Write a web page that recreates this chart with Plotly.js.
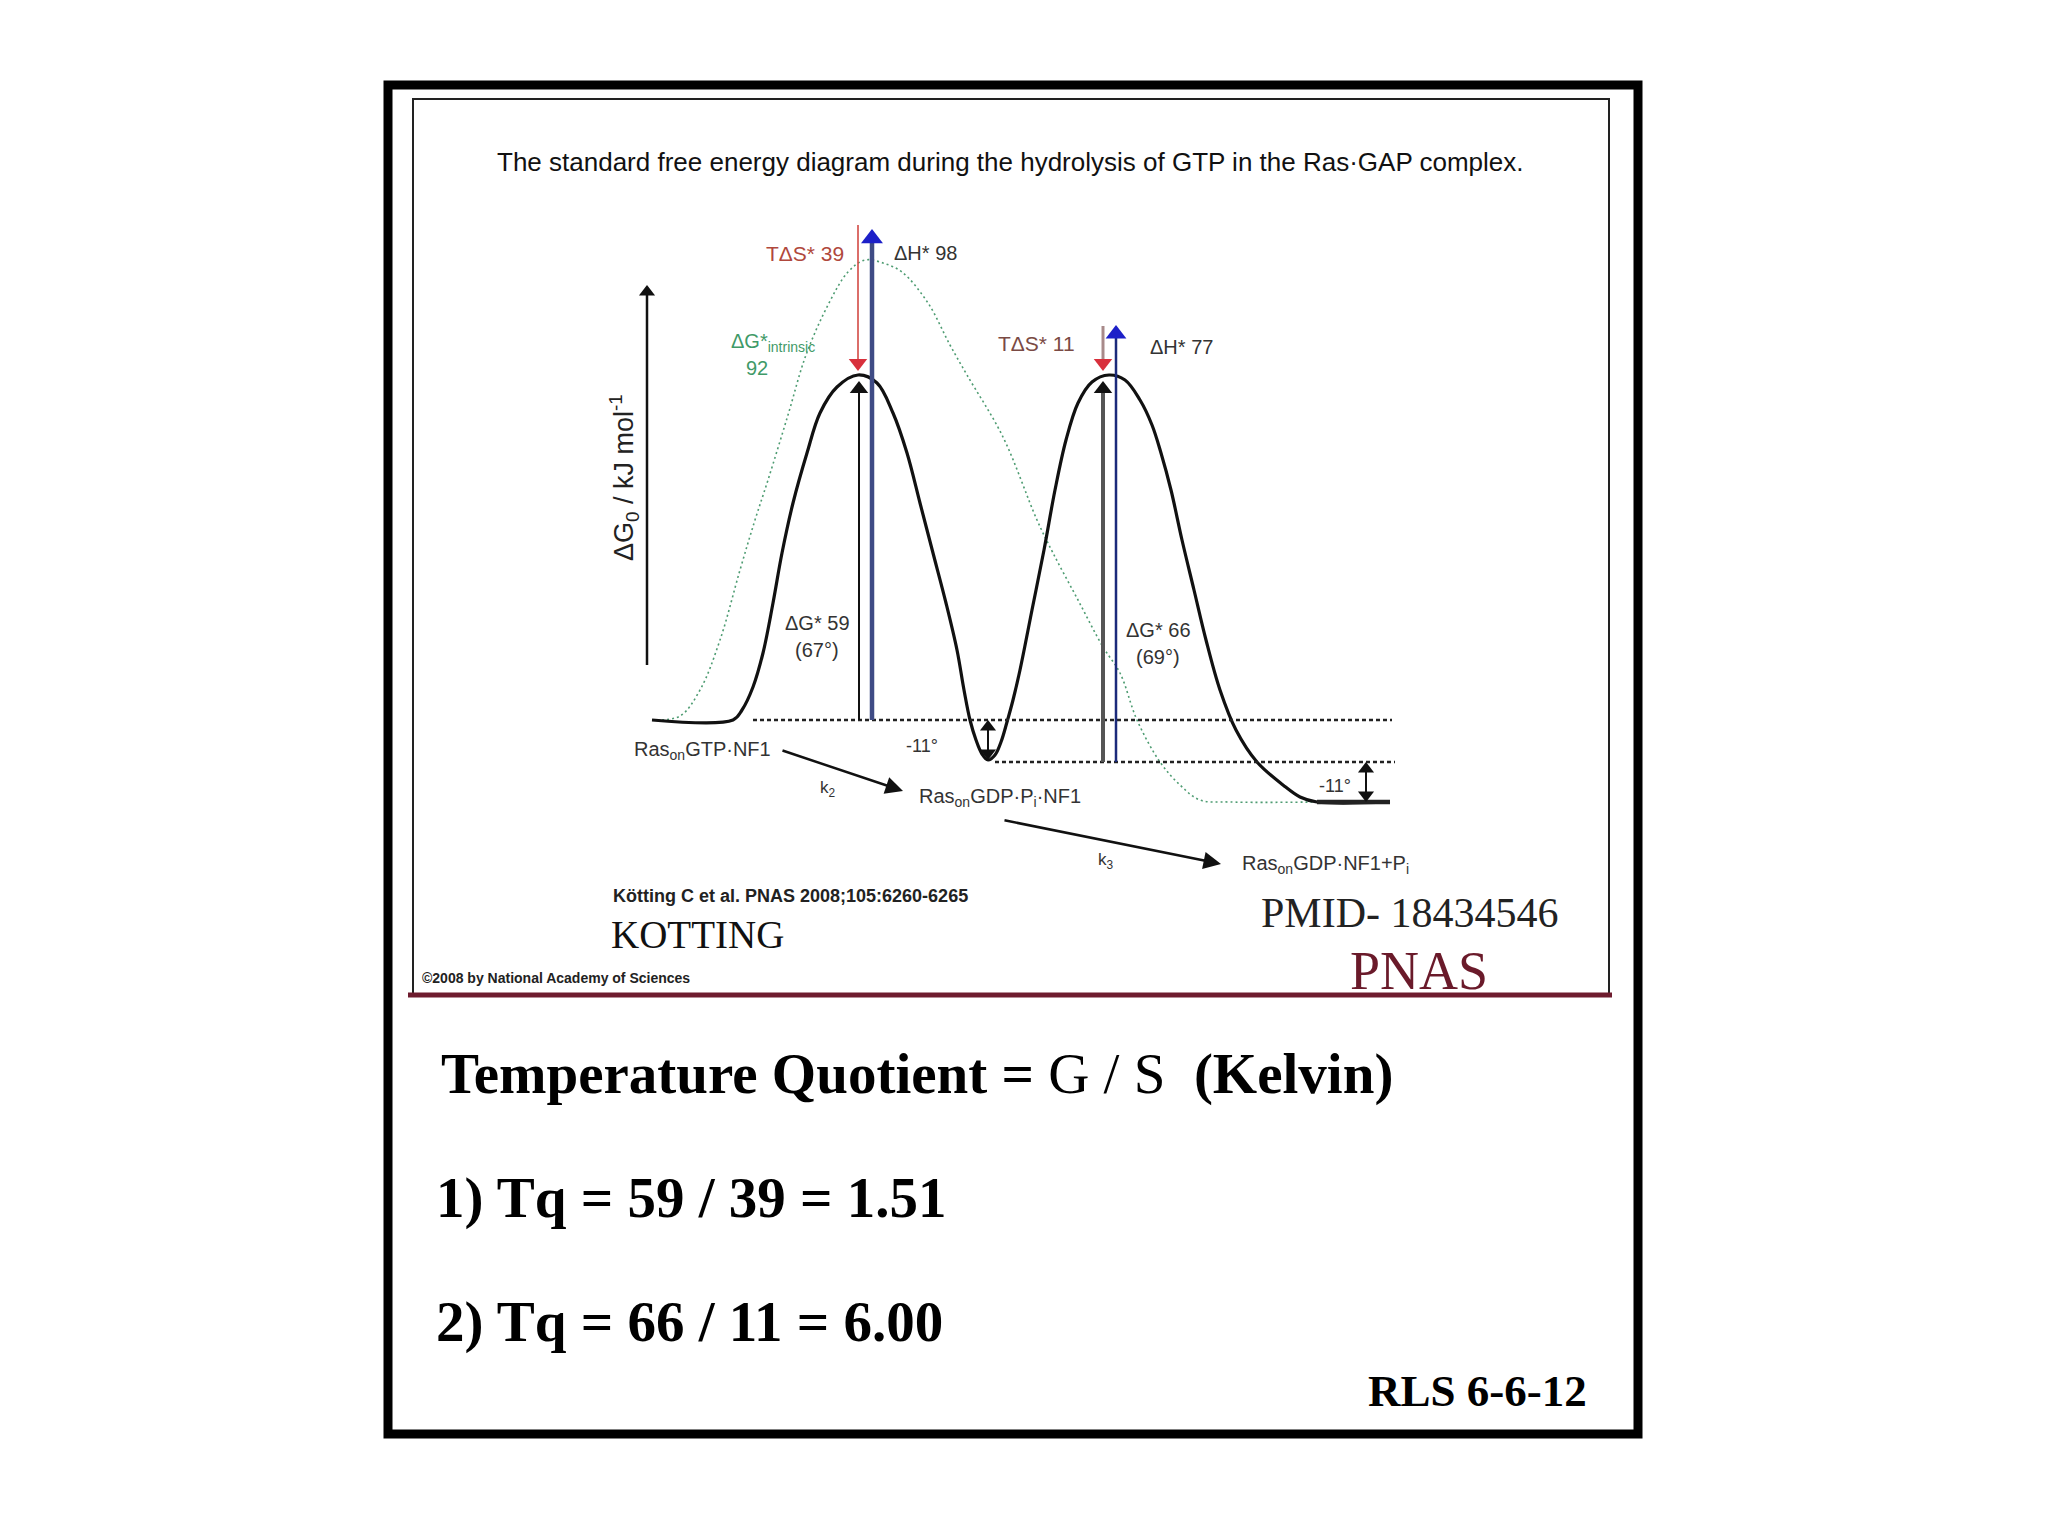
<!DOCTYPE html>
<html>
<head>
<meta charset="utf-8">
<script src="https://cdn.plot.ly/plotly-3.0.1.min.js"></script>
<style>html,body{margin:0;padding:0;background:#fff;}#chart{width:2048px;height:1536px;}</style>
</head>
<body>
<div id="chart"></div>
<script>
// ---- DATA (diagram units; y grows downward) ----
// Free-energy profile of the NF1-catalysed reaction (solid black)
const profileX = [652,733,742,753,763,773,782,793,807,820,837,858,877,893,907,920,933,946,957,964,970,976,982,988,995,1001,1007,1013,1020,1032,1044,1055,1066,1078,1092,1109,1125,1140,1152,1161,1171,1182,1194,1206,1220,1236,1257,1283,1300,1317,1390];
const profileY = [720,720,710,687,653,603,553,503,453,413,387,375,383,413,453,503,553,603,650,690,720,740,754,760,755,742,722,700,670,610,550,490,440,403,382,375,380,400,425,453,490,540,590,640,690,730,762,785,797,802,802];
// Intrinsic (uncatalysed) profile (green dotted)
const intrinsicX = [652,680,700,720,740,755,768,788,806,828,848,865,883,902,928,950,967,1003,1037,1053,1078,1103,1120,1137,1160,1180,1200,1230,1317];
const intrinsicY = [720,716,690,640,570,520,480,415,355,305,272,260,263,272,303,345,375,437,520,553,600,647,673,720,762,785,800,802,802];
// Reference levels (dotted): y, xStart, xEnd
const levelY = [720, 762];
const levelX0 = [753, 995];
const levelX1 = [1392, 1395];
// Vertical arrows: x, tail y, head y
const vArrowX    = [859, 858, 872, 1103, 1103, 1116];
const vArrowFrom = [720, 225, 720, 762, 326, 762];
const vArrowTo   = [381, 371, 229, 381, 371, 325];
const vArrowName = ["ΔG‡ 59", "TΔS‡ 39", "ΔH‡ 98", "ΔG‡ 66", "TΔS‡ 11", "ΔH‡ 77"];
// Double-headed arrows (-11 steps): x, top y, bottom y
const dArrowX = [988, 1366];
const dArrowTop = [720, 762];
const dArrowBot = [760, 802];
// Energy axis arrow
const axisArrowX = [647];
const axisArrowFrom = [665];
const axisArrowTo = [285];
// Reaction-path arrows: [x0, y0, x1, y1]
const rxArrows = [[781, 750, 903, 791], [1003, 820, 1221, 864]];

// ---- STYLES ----
const vArrowLine = ["#111", "#d24a44", "#3f4b85", "#555", "#a88a8a", "#1b2a7a"];
const vArrowHead = ["#111", "#d8303c", "#1d20c8", "#111", "#d8303c", "#1d20c8"];
const vArrowW    = [2, 1.6, 4.5, 4, 3, 2.5];
const vHeadSize  = [16, 16, 19, 16, 16, 18];
const FS = "Liberation Sans, Arial, sans-serif";
const SERIF = "Liberation Serif, Times New Roman, serif";

const traces = [];
traces.push({x: intrinsicX, y: intrinsicY, mode: "lines", line: {color: "#4e9c72", width: 1.6, dash: "2px,3px", shape: "spline", smoothing: 1}, hoverinfo: "skip"});
traces.push({x: profileX, y: profileY, mode: "lines", line: {color: "#111", width: 3.2, shape: "spline", smoothing: 1}, hoverinfo: "skip"});
for (let i = 0; i < levelY.length; i++) {
  traces.push({x: [levelX0[i], levelX1[i]], y: [levelY[i], levelY[i]], mode: "lines", line: {color: "#222", width: 2.5, dash: "4px,3px"}, hoverinfo: "skip"});
}
traces.push({x: profileX.slice(-2), y: profileY.slice(-2), mode: "lines", line: {color: "#222", width: 4.5}, hoverinfo: "skip"});

function head(x, tip, up, color, size) {
  const off = size / 2;
  return {x: [x], y: [up ? tip + off : tip - off], mode: "markers",
    marker: {symbol: up ? "triangle-up" : "triangle-down", size: size, color: color, line: {width: 0}}, hoverinfo: "skip"};
}
for (let i = 0; i < vArrowX.length; i++) {
  const up = vArrowTo[i] < vArrowFrom[i];
  traces.push({x: [vArrowX[i], vArrowX[i]], y: [vArrowFrom[i], vArrowTo[i] + (up ? 7 : -7)], mode: "lines", name: vArrowName[i],
    line: {color: vArrowLine[i], width: vArrowW[i]}, hoverinfo: "skip"});
  traces.push(head(vArrowX[i], vArrowTo[i], up, vArrowHead[i], vHeadSize[i]));
}
for (let i = 0; i < dArrowX.length; i++) {
  traces.push({x: [dArrowX[i], dArrowX[i]], y: [dArrowTop[i] + 6, dArrowBot[i] - 6], mode: "lines", line: {color: "#111", width: 2}, hoverinfo: "skip"});
  traces.push(head(dArrowX[i], dArrowTop[i], true, "#111", 14));
  traces.push(head(dArrowX[i], dArrowBot[i], false, "#111", 14));
}
traces.push({x: [axisArrowX[0], axisArrowX[0]], y: [axisArrowFrom[0], axisArrowTo[0] + 8], mode: "lines", line: {color: "#111", width: 2.5}, hoverinfo: "skip"});
traces.push(head(axisArrowX[0], axisArrowTo[0], true, "#111", 14));

// ---- TEXT ----
function txt(x, y, text, size, color, anchor, family, extra) {
  return Object.assign({x: x, y: y, xref: "x", yref: "y", text: text, showarrow: false,
    xanchor: anchor || "center", yanchor: "middle", font: {family: family || FS, size: size, color: color || "#333"}}, extra || {});
}
const ann = [
  txt(1010, 162, "The standard free energy diagram during the hydrolysis of GTP in the Ras·GAP complex.", 26, "#111"),
  txt(624, 478, "ΔG<sub>0</sub> / kJ mol<sup>-1</sup>", 27, "#222", "center", FS, {textangle: -90}),
  txt(846, 253, "TΔS* 39", 21, "#b0483c", "right"),
  txt(892, 253, "ΔH* 98", 20, "#333", "left"),
  txt(729, 342, "ΔG*<sub>intrinsic</sub>", 20, "#3f9a68", "left"),
  txt(744, 368, "92", 20, "#3f9a68", "left"),
  txt(1077, 343, "TΔS* 11", 21, "#7a4a44", "right"),
  txt(1148, 347, "ΔH* 77", 20, "#333", "left"),
  txt(817, 623, "ΔG* 59", 20, "#333"),
  txt(817, 650, "(67°)", 20, "#333"),
  txt(1158, 630, "ΔG* 66", 20, "#333"),
  txt(1158, 657, "(69°)", 20, "#333"),
  txt(922, 746, "-11°", 18, "#333"),
  txt(1335, 786, "-11°", 18, "#333"),
  txt(632, 750, "Ras<sub>on</sub>GTP·NF1", 20, "#333", "left"),
  txt(828, 789, "k<sub>2</sub>", 17, "#333"),
  txt(917, 797, "Ras<sub>on</sub>GDP·P<sub>i</sub>·NF1", 20, "#333", "left"),
  txt(1106, 861, "k<sub>3</sub>", 17, "#333"),
  txt(1240, 864, "Ras<sub>on</sub>GDP·NF1+P<sub>i</sub>", 20, "#333", "left"),
  txt(611, 896, "<b>Kötting C et al. PNAS 2008;105:6260-6265</b>", 18, "#222", "left"),
  txt(609, 934, "KOTTING", 39, "#111", "left", SERIF),
  txt(420, 978, "<b>©2008 by National Academy of Sciences</b>", 14, "#222", "left"),
  txt(1259, 913, "PMID- 18434546", 42, "#222", "left", SERIF),
  txt(1348, 971, "PNAS", 54, "#6a1a2a", "left", SERIF),
  txt(439, 1074, "<b>Temperature Quotient =</b> G / S \u00A0<b>(Kelvin)</b>", 57, "#000", "left", SERIF),
  txt(434, 1198, "<b>1) Tq = 59 / 39 = 1.51</b>", 57, "#000", "left", SERIF),
  txt(434, 1322, "<b>2) Tq = 66 / 11 = 6.00</b>", 57, "#000", "left", SERIF),
  txt(1366, 1391, "<b>RLS 6-6-12</b>", 45, "#000", "left", SERIF),
];
rxArrows.forEach(a => ann.push({x: a[2], y: a[3], ax: a[0], ay: a[1], xref: "x", yref: "y", axref: "x", ayref: "y",
  showarrow: true, arrowhead: 2, arrowsize: 1.4, arrowwidth: 2.5, arrowcolor: "#111", text: ""}));

const shapes = [
  {type: "rect", xref: "x", yref: "y", x0: 388, y0: 85, x1: 1638, y1: 1434, line: {color: "#000", width: 9}},
  {type: "rect", xref: "x", yref: "y", x0: 413, y0: 99, x1: 1609, y1: 995, line: {color: "#222", width: 2}},
  {type: "line", xref: "x", yref: "y", x0: 408, y0: 995, x1: 1612, y1: 995, line: {color: "#6e1c2e", width: 5}},
];

const layout = {
  width: 2048, height: 1536, margin: {l: 0, r: 0, t: 0, b: 0},
  paper_bgcolor: "#fff", plot_bgcolor: "#fff", showlegend: false,
  xaxis: {range: [0, 2048], visible: false, fixedrange: true},
  yaxis: {range: [1536, 0], visible: false, fixedrange: true},
  annotations: ann, shapes: shapes
};
Plotly.newPlot("chart", traces, layout, {displayModeBar: false, staticPlot: true});
</script>
</body>
</html>
